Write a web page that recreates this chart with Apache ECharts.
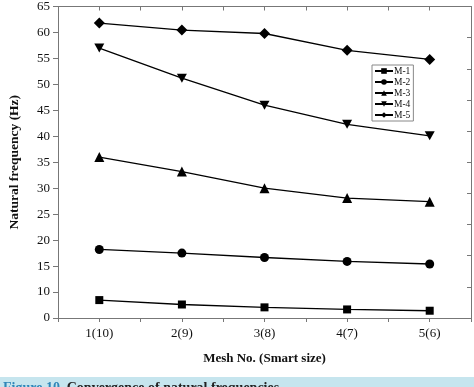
<!DOCTYPE html>
<html>
<head>
<meta charset="utf-8">
<script src="https://cdn.jsdelivr.net/npm/echarts@6/dist/echarts.min.js"></script>
<style>html,body{margin:0;padding:0;background:#fff;}#c{width:474px;height:387px;}</style>
</head>
<body>
<div id="c"></div>
<script>
var categories = ['1(10)', '2(9)', '3(8)', '4(7)', '5(6)'];
var seriesNames = ['M-1', 'M-2', 'M-3', 'M-4', 'M-5'];
var m1 = [8.45, 7.6, 7.05, 6.65, 6.4];
var m2 = [18.2, 17.5, 16.65, 15.9, 15.4];
var m3 = [36.0, 33.2, 30.0, 28.1, 27.4];
var m4 = [57.0, 51.2, 46.0, 42.3, 40.1];
var m5 = [61.8, 60.45, 59.8, 56.55, 54.8];
var yTickLabels = {5: '0'};
var symbols = ['rect', 'circle', 'triangle', 'path://M0,0 L10,0 L5,10 Z', 'diamond'];
var symbolSizes = [8, 9, 10, [10, 9], 11];

var font = 'Liberation Serif, Times New Roman, serif';
var allData = [m1, m2, m3, m4, m5];
var series = allData.map(function (arr, si) {
  return {
    name: seriesNames[si],
    type: 'line',
    xAxisIndex: 0,
    yAxisIndex: 0,
    symbol: symbols[si],
    symbolSize: symbolSizes[si],
    lineStyle: { color: '#000', width: 1.3 },
    itemStyle: { color: '#000' },
    data: arr.map(function (v, i) { return [i + 1, v]; })
  };
});

var chart = echarts.init(document.getElementById('c'));
chart.setOption({
  animation: false,
  backgroundColor: '#fff',
  grid: { left: 52, right: 2, top: 5, bottom: 69 },
  legend: {
    orient: 'vertical',
    left: 372, top: 65,
    itemWidth: 18, itemHeight: 7, itemGap: 1,
    padding: [1, 3, 1, 2],
    borderColor: '#888', borderWidth: 1,
    textStyle: { fontFamily: font, fontSize: 9.5, lineHeight: 9.8, color: '#111', padding: [0, 0, 0, -4] },
    data: seriesNames
  },
  xAxis: [{
    type: 'value', position: 'bottom', min: 0.5, max: 5.5, interval: 0.5,
    name: 'Mesh No. (Smart size)', nameLocation: 'middle', nameGap: 34,
    nameTextStyle: { fontFamily: font, fontSize: 13, fontWeight: 'bold', color: '#111' },
    axisLine: { lineStyle: { color: '#777', width: 1 } },
    axisTick: { show: true, inside: false, length: 4, lineStyle: { color: '#777' } },
    axisLabel: {
      fontFamily: font, fontSize: 13, color: '#111', margin: 9,
      formatter: function (v) { return Number.isInteger(v) ? categories[v - 1] : ''; }
    },
    splitLine: { show: false }
  }, {
    type: 'value', position: 'top', min: 0.5, max: 5.5, interval: 0.5,
    axisLine: { show: true, lineStyle: { color: '#777', width: 1 } },
    axisTick: { show: true, inside: true, length: 4, lineStyle: { color: '#777' } },
    axisLabel: { show: false },
    splitLine: { show: false }
  }],
  yAxis: [{
    type: 'value', position: 'left', min: 5, max: 65, interval: 5,
    name: 'Natural frequency (Hz)', nameLocation: 'middle', nameGap: 36,
    nameTextStyle: { fontFamily: font, fontSize: 13.5, fontWeight: 'bold', color: '#111' },
    axisLine: { show: true, lineStyle: { color: '#777', width: 1 } },
    axisTick: { show: true, inside: false, length: 5, lineStyle: { color: '#777' } },
    axisLabel: {
      fontFamily: font, fontSize: 13, color: '#111', margin: 8,
      formatter: function (v) { return yTickLabels[v] !== undefined ? yTickLabels[v] : String(v); }
    },
    splitLine: { show: false }
  }, {
    type: 'value', position: 'right', min: 0, max: 10, interval: 1,
    axisLine: { show: true, lineStyle: { color: '#777', width: 1 } },
    axisTick: { show: true, inside: true, length: 4, lineStyle: { color: '#777' } },
    axisLabel: { show: false },
    splitLine: { show: false }
  }],
  graphic: [{
    type: 'rect', left: 0, top: 377, shape: { width: 474, height: 10 },
    style: { fill: '#c6e5ee' }, silent: true
  }, {
    type: 'text', left: 3, top: 381,
    style: {
      text: '{a|Figure 10.} {b|Convergence of natural frequencies}',
      rich: {
        a: { fontFamily: font, fontSize: 14, fontWeight: 'bold', fill: '#2f86b8' },
        b: { fontFamily: font, fontSize: 14, fontWeight: 'bold', fill: '#222' }
      }
    }
  }],
  series: series
});
</script>
</body>
</html>
